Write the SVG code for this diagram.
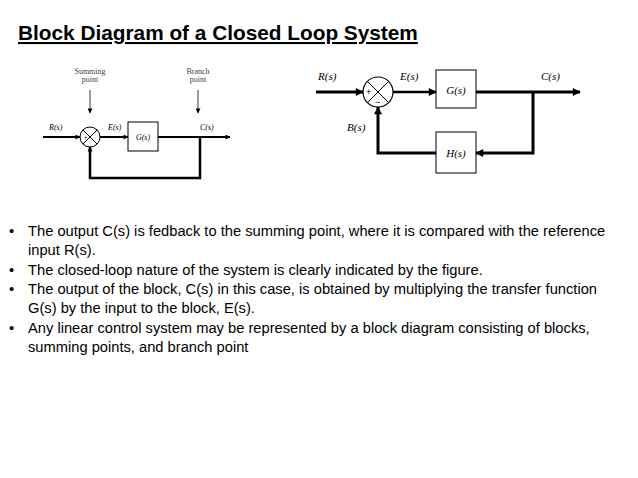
<svg xmlns="http://www.w3.org/2000/svg" width="638" height="478" viewBox="0 0 638 478">
<style>
.t{font-family:"Liberation Sans",Arial,sans-serif;font-size:14.7px;fill:#000}
.s{font-family:"Liberation Serif",serif;font-style:italic;fill:#000}
.sm{font-family:"Liberation Serif",serif;font-size:8px;fill:#444}
.w{fill:none;stroke:#000}
</style>
<defs>
<marker id="a" viewBox="0 0 10 10" refX="9" refY="5" markerWidth="7" markerHeight="5" orient="auto" markerUnits="userSpaceOnUse"><path d="M0,0L10,5L0,10z"/></marker>
<marker id="b" viewBox="0 0 10 10" refX="9" refY="5" markerWidth="12" markerHeight="8" orient="auto" markerUnits="userSpaceOnUse"><path d="M0,0L10,5L0,10z"/></marker>
</defs>
<rect width="638" height="478" fill="#fff"/>
<text x="18" y="40" font-family="Liberation Sans,Arial,sans-serif" font-size="20.8" font-weight="bold" text-decoration="underline">Block Diagram of a Closed Loop System</text>
<g id="left">
<g id="l-sum"><circle cx="90" cy="137" r="10" class="w" stroke-width="1"/><path d="M83,130L97,144M97,130L83,144" class="w"/><text x="84" y="140" font-size="6">+</text></g>
<g id="l-g"><rect x="128" y="122" width="30" height="29" class="w"/><text x="143" y="140" class="s" font-size="8" text-anchor="middle">G(s)</text></g>
<text x="90" y="74" class="sm" text-anchor="middle">Summing</text><text x="90" y="82" class="sm" text-anchor="middle">point</text>
<text x="198" y="74" class="sm" text-anchor="middle">Branch</text><text x="198" y="82" class="sm" text-anchor="middle">point</text>
<text x="49" y="130" class="s" font-size="8">R(s)</text><text x="108" y="130" class="s" font-size="8">E(s)</text><text x="200" y="130" class="s" font-size="8">C(s)</text>
<g id="l-conn">
<path d="M90,90V113" class="w" stroke-width="0.8" marker-end="url(#a)"/>
<path d="M198,90V113" class="w" stroke-width="0.8" marker-end="url(#a)"/>
<path d="M43,137H80" class="w" stroke-width="2" marker-end="url(#a)"/>
<path d="M100,137H128" class="w" stroke-width="2" marker-end="url(#a)"/>
<path d="M158,137H230" class="w" stroke-width="2" marker-end="url(#a)"/>
<path d="M200,137V178H90V147" class="w" stroke-width="2.5" marker-end="url(#a)"/>
</g>
</g>
<g id="right">
<g id="r-sum"><circle cx="378" cy="92" r="15" class="w" stroke-width="1.2"/><path d="M367.4,81.4L388.6,102.6M388.6,81.4L367.4,102.6" class="w"/><text x="366" y="95" font-size="9" font-family="Liberation Sans,sans-serif">+</text><text x="375" y="105" font-size="9" font-family="Liberation Sans,sans-serif">−</text></g>
<g id="r-g"><rect x="436" y="70" width="40" height="38" class="w"/><text x="456" y="94" class="s" font-size="11" text-anchor="middle">G(s)</text></g>
<g id="r-h"><rect x="436" y="132" width="40" height="41" class="w"/><text x="456" y="157" class="s" font-size="11" text-anchor="middle">H(s)</text></g>
<text x="318" y="80" class="s" font-size="11">R(s)</text><text x="400" y="80" class="s" font-size="11">E(s)</text><text x="541" y="80" class="s" font-size="11">C(s)</text><text x="347" y="131" class="s" font-size="11">B(s)</text>
<g id="r-conn">
<path d="M316,92H363" class="w" stroke-width="3" marker-end="url(#b)"/>
<path d="M393,92H436" class="w" stroke-width="2.5" marker-end="url(#b)"/>
<path d="M476,92H580" class="w" stroke-width="3" marker-end="url(#b)"/>
<path d="M533,92V153H476" class="w" stroke-width="3" marker-end="url(#b)"/>
<path d="M436,153H378V107" class="w" stroke-width="3" marker-end="url(#b)"/>
</g>
</g>
<g id="bullets" class="t">
<text x="9" y="236">•</text><text x="28" y="236">The output C(s) is fedback to the summing point, where it is compared with the reference</text>
<text x="28" y="255">input R(s).</text>
<text x="9" y="275">•</text><text x="28" y="275">The closed-loop nature of the system is clearly indicated by the figure.</text>
<text x="9" y="294">•</text><text x="28" y="294">The output of the block, C(s) in this case, is obtained by multiplying the transfer function</text>
<text x="28" y="313">G(s) by the input to the block, E(s).</text>
<text x="9" y="333">•</text><text x="28" y="333">Any linear control system may be represented by a block diagram consisting of blocks,</text>
<text x="28" y="352">summing points, and branch point</text>
</g>
</svg>
